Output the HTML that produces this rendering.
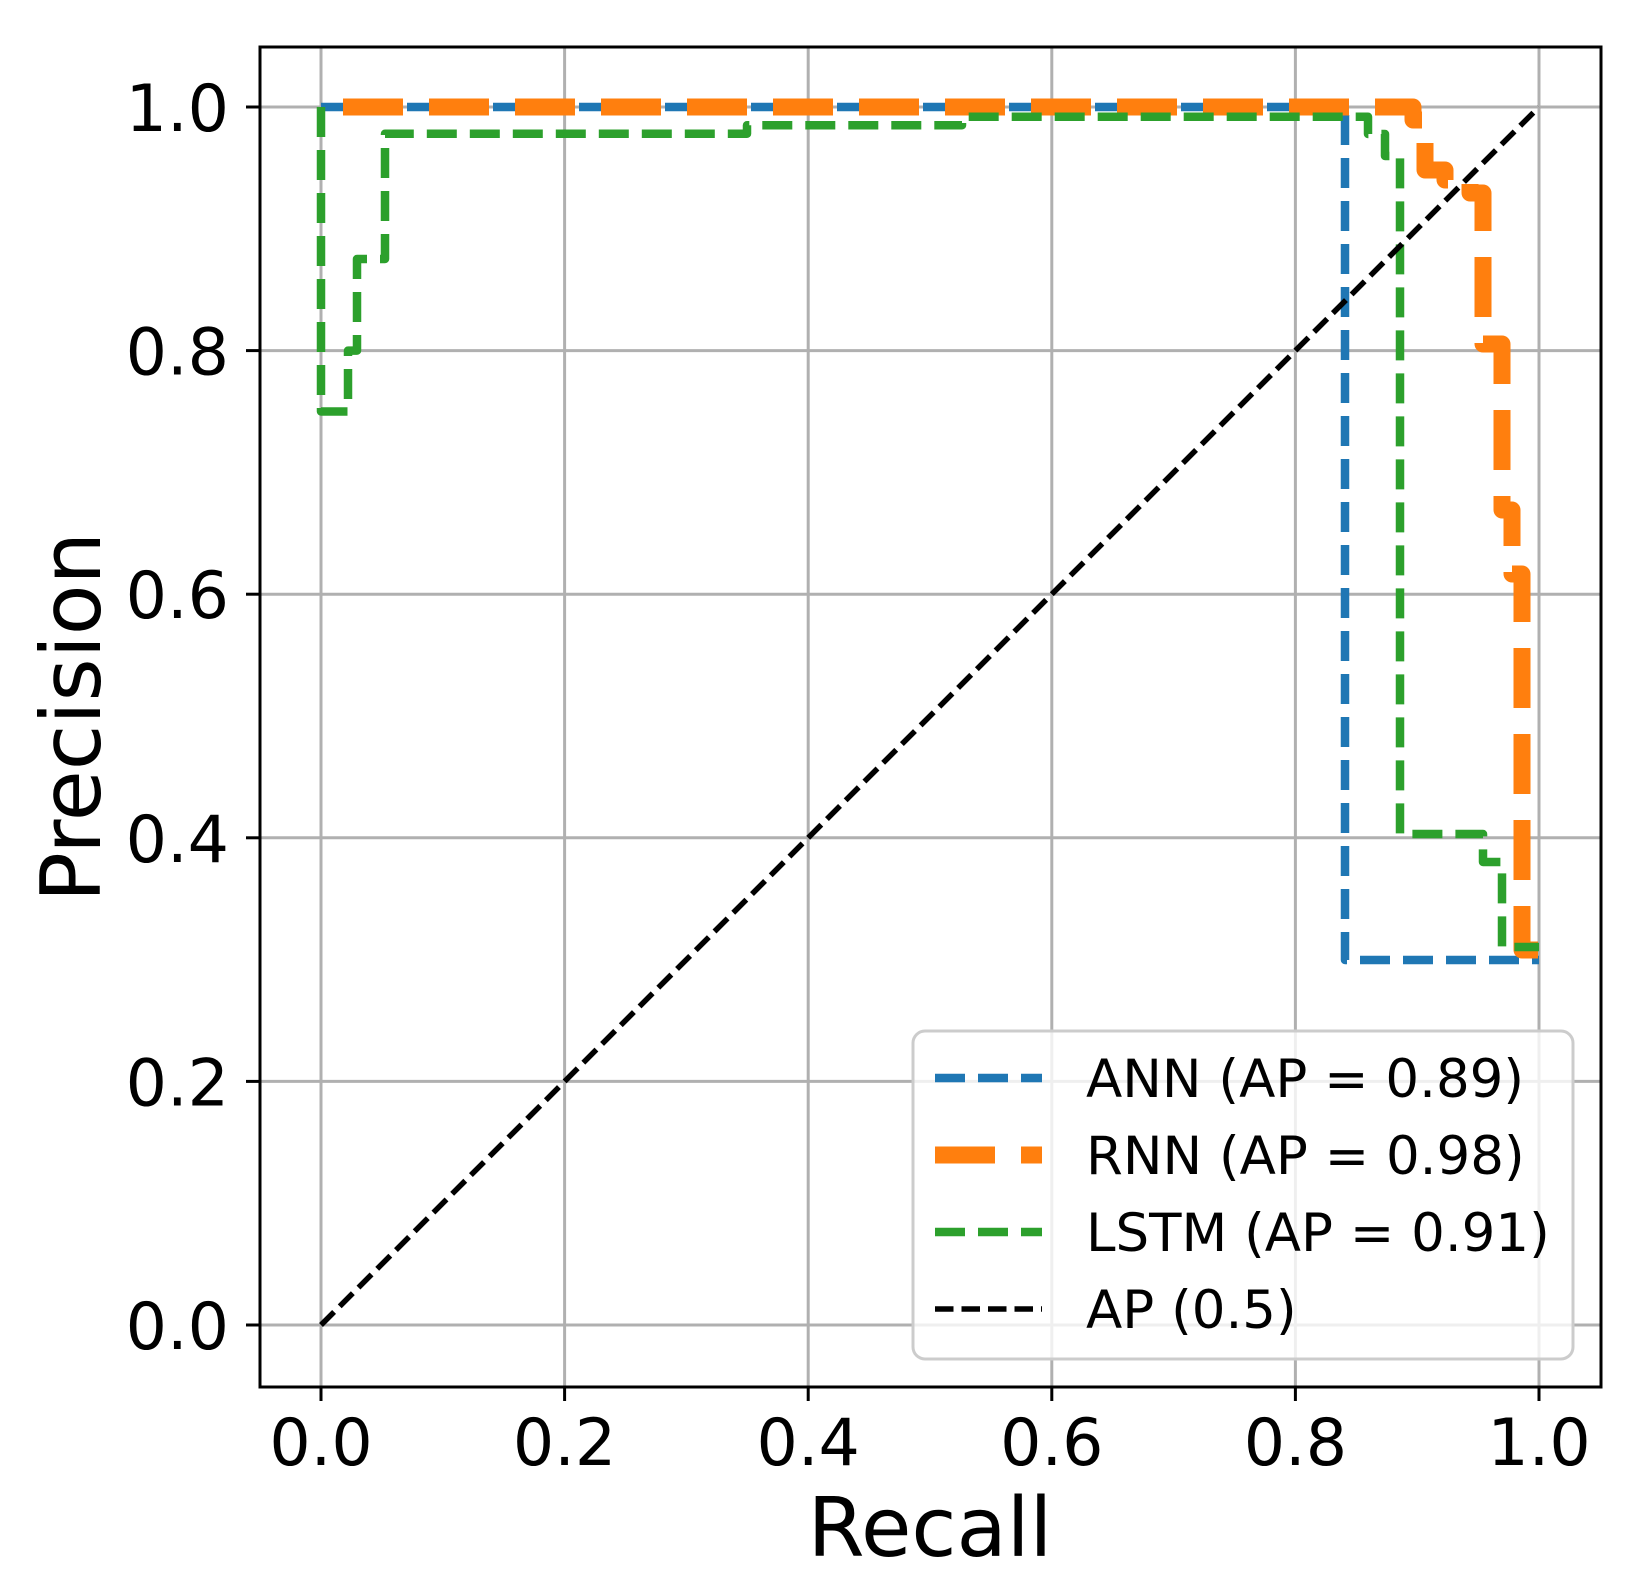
<!DOCTYPE html>
<html><head><meta charset="utf-8"><style>body{margin:0;background:#fff}</style></head>
<body>
<svg width="1641" height="1585" viewBox="0 0 1641 1585" xmlns="http://www.w3.org/2000/svg" font-family="'DejaVu Sans','Liberation Sans',sans-serif">
<rect width="1641" height="1585" fill="#fff"/>
<defs><clipPath id="c"><rect x="260" y="47" width="1341" height="1340"/></clipPath></defs>
<g stroke="#b0b0b0" stroke-width="3">
<line x1="321" y1="47" x2="321" y2="1387"/><line x1="564.6" y1="47" x2="564.6" y2="1387"/><line x1="808.2" y1="47" x2="808.2" y2="1387"/><line x1="1051.8" y1="47" x2="1051.8" y2="1387"/><line x1="1295.4" y1="47" x2="1295.4" y2="1387"/><line x1="1539" y1="47" x2="1539" y2="1387"/>
<line x1="260" y1="1325" x2="1601" y2="1325"/><line x1="260" y1="1081.4" x2="1601" y2="1081.4"/><line x1="260" y1="837.8" x2="1601" y2="837.8"/><line x1="260" y1="594.2" x2="1601" y2="594.2"/><line x1="260" y1="350.6" x2="1601" y2="350.6"/><line x1="260" y1="107" x2="1601" y2="107"/>
</g>
<g clip-path="url(#c)" fill="none" stroke-linejoin="round">
<polyline stroke="#1f77b4" stroke-width="8.5" stroke-dasharray="30,13" points="321,107 1345,107 1345,960 1539,960"/>
<polyline stroke="#ff7f0e" stroke-width="17" stroke-dasharray="60,26" stroke-dashoffset="64" points="321,107 1413,107 1413,120 1425,120 1425,170 1445,170 1445,180 1470,180 1470,193 1483,193 1483,344 1502,344 1502,510 1512,510 1512,574 1522,574 1522,950 1539,950"/>
<polyline stroke="#2ca02c" stroke-width="8.5" stroke-dasharray="30,13" points="321,107 321,411.5 348,411.5 348,350.6 357,350.6 357,259 385,259 385,133.8 747,133.8 747,125.3 962,125.3 962,116.7 1368,116.7 1368,134 1385,134 1385,156 1400,156 1400,834 1483,834 1483,862 1502,862 1502,947 1539,947"/>
<line x1="321" y1="1325" x2="1539" y2="107" stroke="#000" stroke-width="5.5" stroke-dasharray="18.5,8"/>
</g>
<rect x="260" y="47" width="1341" height="1340" fill="none" stroke="#000" stroke-width="3"/>
<g stroke="#000" stroke-width="3">
<line x1="321" y1="1387" x2="321" y2="1401"/><line x1="564.6" y1="1387" x2="564.6" y2="1401"/><line x1="808.2" y1="1387" x2="808.2" y2="1401"/><line x1="1051.8" y1="1387" x2="1051.8" y2="1401"/><line x1="1295.4" y1="1387" x2="1295.4" y2="1401"/><line x1="1539" y1="1387" x2="1539" y2="1401"/>
<line x1="246" y1="1325" x2="260" y2="1325"/><line x1="246" y1="1081.4" x2="260" y2="1081.4"/><line x1="246" y1="837.8" x2="260" y2="837.8"/><line x1="246" y1="594.2" x2="260" y2="594.2"/><line x1="246" y1="350.6" x2="260" y2="350.6"/><line x1="246" y1="107" x2="260" y2="107"/>
</g>
<g font-size="65" fill="#000" text-anchor="middle">
<text x="321" y="1465">0.0</text><text x="564.6" y="1465">0.2</text><text x="808.2" y="1465">0.4</text><text x="1051.8" y="1465">0.6</text><text x="1295.4" y="1465">0.8</text><text x="1539" y="1465">1.0</text>
</g>
<g font-size="65" fill="#000" text-anchor="end">
<text x="229" y="1349">0.0</text><text x="229" y="1105.4">0.2</text><text x="229" y="861.8">0.4</text><text x="229" y="618.2">0.6</text><text x="229" y="374.6">0.8</text><text x="229" y="131">1.0</text>
</g>
<text x="930" y="1556" font-size="82" text-anchor="middle">Recall</text>
<text transform="translate(100,717) rotate(-90)" font-size="83" text-anchor="middle">Precision</text>
<rect x="913" y="1031" width="660" height="328" rx="12" fill="#fff" fill-opacity="0.8" stroke="#cccccc" stroke-width="3"/>
<line x1="935" y1="1078" x2="1042" y2="1078" stroke="#1f77b4" stroke-width="8.5" stroke-dasharray="30,13"/>
<line x1="935" y1="1155" x2="1042" y2="1155" stroke="#ff7f0e" stroke-width="17" stroke-dasharray="60,26"/>
<line x1="935" y1="1232" x2="1042" y2="1232" stroke="#2ca02c" stroke-width="8.5" stroke-dasharray="30,13"/>
<line x1="935" y1="1309" x2="1042" y2="1309" stroke="#000" stroke-width="5.5" stroke-dasharray="18.5,8"/>
<g font-size="53" fill="#000">
<text x="1086" y="1097">ANN (AP = 0.89)</text>
<text x="1086" y="1174">RNN (AP = 0.98)</text>
<text x="1086" y="1251">LSTM (AP = 0.91)</text>
<text x="1086" y="1328">AP (0.5)</text>
</g>
</svg>
</body></html>
